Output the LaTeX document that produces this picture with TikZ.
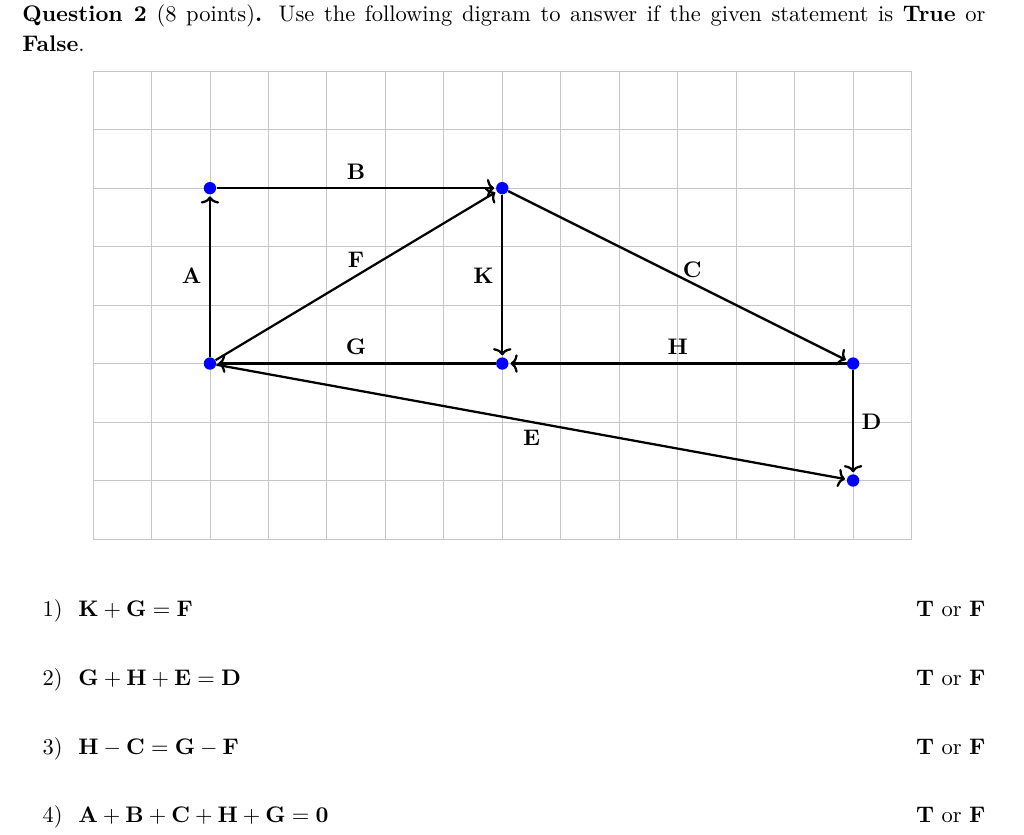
\documentclass[tikz,border=0pt,11pt]{standalone}
\usepackage{amsmath}
\usetikzlibrary{arrows.meta}
\pgfdeclarelayer{bg}
\pgfsetlayers{bg,main}
\begin{document}
\begin{tikzpicture}[
  x=1cm,y=1cm,
  vtx/.style={circle, fill=blue, inner sep=0pt, minimum size=6pt},
  vec/.style={line width=1.1pt, -{To[length=3.5pt,width=9pt]}, shorten >=0.8pt},
  lbl/.style={font=\bfseries},
  gridline/.style={gray!45, line width=0.4pt},
  txt/.style={inner sep=0pt}
]
\useasboundingbox (-1.5906,-5.062) rectangle (15.923,9.218);
\begin{pgfonlayer}{bg}
\draw[gridline] (0,0) grid (14,8);
\end{pgfonlayer}
\node[vtx] (p26) at (2,6) {};
\node[vtx] (p76) at (7,6) {};
\node[vtx] (p23) at (2,3) {};
\node[vtx] (p73) at (7,3) {};
\node[vtx] (p133) at (13,3) {};
\node[vtx] (p131) at (13,1) {};
\begin{pgfonlayer}{bg}
\draw[vec] (p23) -- node[midway,left,lbl]{A} (p26);
\draw[vec] (p26) -- node[midway,above,lbl]{B} (p76);
\draw[vec] (p76) -- node[pos=0.543,above=-1.5pt,lbl]{C} (p133);
\draw[vec] (p133) -- node[midway,right,lbl]{D} (p131);
\draw[vec] (p23) -- node[midway,below,lbl]{E} (p131);
\draw[vec] (p23) -- node[midway,above,lbl]{F} (p76);
\draw[vec] (p73) -- node[midway,above,lbl]{G} (p23);
\draw[vec] (p133) -- node[midway,above,lbl]{H} (p73);
\draw[vec] (p76) -- node[midway,left,lbl]{K} (p73);
\end{pgfonlayer}
\node[txt, anchor=north west, text width=468.6pt, align=justify, font=\fontsize{10.95pt}{14.6pt}\selectfont] (q) at (-1.2143,9.14)
  {\textbf{Question 2} (8 points)\textbf{.} Use the following digram to answer if the given statement is \textbf{True} or \textbf{False}.};
\node[txt, anchor=base east] (n1) at (-0.513,-1.334) {1)};
\node[txt, anchor=base west] (e1) at (-0.2565,-1.334) {$\mathbf{K}+\mathbf{G}=\mathbf{F}$};
\node[txt, anchor=base east] (t1) at (15.27,-1.334) {\textbf{T} or \textbf{F}};
\node[txt, anchor=base east] (n2) at (-0.513,-2.514) {2)};
\node[txt, anchor=base west] (e2) at (-0.2565,-2.514) {$\mathbf{G}+\mathbf{H}+\mathbf{E}=\mathbf{D}$};
\node[txt, anchor=base east] (t2) at (15.27,-2.514) {\textbf{T} or \textbf{F}};
\node[txt, anchor=base east] (n3) at (-0.513,-3.694) {3)};
\node[txt, anchor=base west] (e3) at (-0.2565,-3.694) {$\mathbf{H}-\mathbf{C}=\mathbf{G}-\mathbf{F}$};
\node[txt, anchor=base east] (t3) at (15.27,-3.694) {\textbf{T} or \textbf{F}};
\node[txt, anchor=base east] (n4) at (-0.513,-4.857) {4)};
\node[txt, anchor=base west] (e4) at (-0.2565,-4.857) {$\mathbf{A}+\mathbf{B}+\mathbf{C}+\mathbf{H}+\mathbf{G}=\mathbf{0}$};
\node[txt, anchor=base east] (t4) at (15.27,-4.857) {\textbf{T} or \textbf{F}};
\end{tikzpicture}
\end{document}
